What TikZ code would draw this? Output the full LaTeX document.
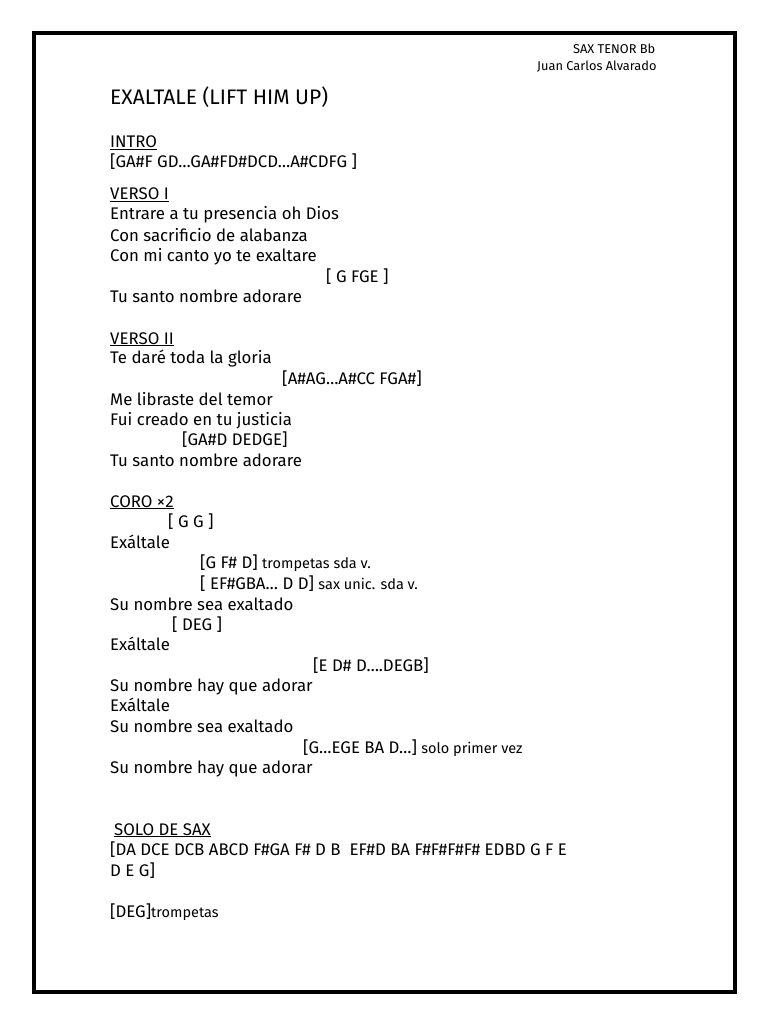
\documentclass[tikz,border=0pt]{standalone}
\usepackage{fontspec}
\setmainfont{Fira Sans}
\begin{document}
\begin{tikzpicture}[x=1pt,y=-1pt,
  txt/.style={anchor=base west,inner sep=0pt,font=\fontsize{16.8}{18}\selectfont},
  sml/.style={anchor=base west,inner sep=0pt,font=\fontsize{12.8}{14}\selectfont}]
\useasboundingbox (0,0) rectangle (768,1024);
\fill[white] (0,0) rectangle (768,1024);
\draw[line width=3.5pt] (34,33) rectangle (735,992);
\newcommand{\an}[1]{{\fontsize{14.5}{14}\selectfont #1}}
\node[sml] (h1) at (573,54) {SAX TENOR Bb};
\node[sml] (h2) at (537,71) {Juan Carlos Alvarado};
\node[anchor=base west,inner sep=0pt,font=\fontsize{21}{22}\selectfont] (t) at (110,105) {EXALTALE (LIFT HIM UP)};
\node[txt] (a1) at (110,148) {\underline{INTRO}};
\node[txt] (a2) at (110,168) {[GA\#F GD…GA\#FD\#DCD…A\#CDFG ]};
\node[txt] (b1) at (110,200) {\underline{VERSO I}};
\node[txt] (b2) at (110,220) {Entrare a tu presencia oh Dios};
\node[txt] (b3) at (110,241) {Con sacrificio de alabanza};
\node[txt] (b4) at (110,261) {Con mi canto yo te exaltare};
\node[txt] (b5) at (326,282) {[ G FGE ]};
\node[txt] (b6) at (110,302) {Tu santo nombre adorare};
\node[txt] (c1) at (110,344) {\underline{VERSO II}};
\node[txt] (c2) at (110,363) {Te daré toda la gloria};
\node[txt] (c3) at (282,384) {[A\#AG…A\#CC FGA\#]};
\node[txt] (c4) at (110,405) {Me libraste del temor};
\node[txt] (c5) at (110,425) {Fui creado en tu justicia};
\node[txt] (c6) at (182,445) {[GA\#D DEDGE]};
\node[txt] (c7) at (110,466) {Tu santo nombre adorare};
\node[txt] (d1) at (110,507) {\underline{CORO ×2}};
\node[txt] (d2) at (168,527) {[ G G ]};
\node[txt] (d3) at (110,548) {Exáltale};
\node[txt] (d4) at (200,568) {[G F\# D] \an{trompetas sda v.}};
\node[txt] (d5) at (200,589) {[ EF\#GBA… D D] \an{sax unic. sda v.}};
\node[txt] (d6) at (110,610) {Su nombre sea exaltado};
\node[txt] (d7) at (172,630) {[ DEG ]};
\node[txt] (d8) at (110,650) {Exáltale};
\node[txt] (d9) at (313,671) {[E D\# D….DEGB]};
\node[txt] (d10) at (110,691) {Su nombre hay que adorar};
\node[txt] (d11) at (110,711) {Exáltale};
\node[txt] (d12) at (110,732) {Su nombre sea exaltado};
\node[txt] (d13) at (303,753) {[G…EGE BA D…] \an{solo primer vez}};
\node[txt] (d14) at (110,773) {Su nombre hay que adorar};
\node[txt] (e1) at (114,835) {\underline{SOLO DE SAX}};
\node[txt] (e2) at (110,855) {[DA DCE DCB ABCD F\#GA F\# D B \ EF\#D BA F\#F\#F\#F\# EDBD G F E};
\node[txt] (e3) at (110,876) {D E G]};
\node[txt] (e4) at (110,917) {[DEG]\an{trompetas}};
\end{tikzpicture}
\end{document}
